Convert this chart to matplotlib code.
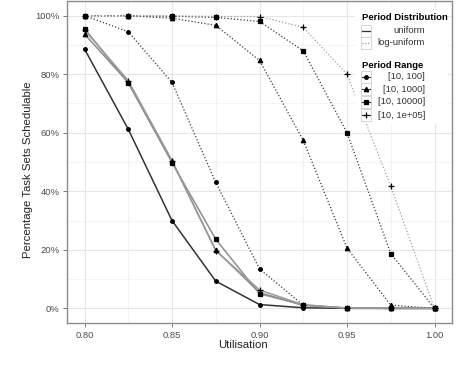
import numpy as np
import matplotlib
matplotlib.use("Agg")
import matplotlib.pyplot as plt
from matplotlib.lines import Line2D
from matplotlib.patches import Rectangle

plt.rcParams['font.family'] = ['Liberation Sans', 'DejaVu Sans']

utilisation = [0.800, 0.825, 0.850, 0.875, 0.900, 0.925, 0.950, 0.975, 1.000]
ranges = ["[10, 100]", "[10, 1000]", "[10, 10000]", "[10, 1e+05]"]
distributions = ["uniform", "log-uniform"]

# percentage schedulable, uniform period distribution
uniform_100 = [88.6, 61.2, 30.0, 9.3, 1.3, 0.2, 0.0, 0.0, 0.0]
uniform_1000 = [93.7, 77.2, 50.3, 19.9, 5.4, 1.0, 0.1, 0.0, 0.0]
uniform_10000 = [95.6, 77.0, 49.8, 23.6, 5.0, 1.2, 0.1, 0.0, 0.0]
uniform_1e5 = [95.1, 77.8, 50.5, 19.7, 6.3, 1.2, 0.1, 0.0, 0.0]

# percentage schedulable, log-uniform period distribution
loguni_100 = [100.0, 94.5, 77.2, 43.0, 13.5, 1.1, 0.0, 0.0, 0.0]
loguni_1000 = [100.0, 100.0, 99.1, 96.7, 84.7, 57.4, 20.6, 1.1, 0.0]
loguni_10000 = [100.0, 100.0, 99.8, 99.4, 98.0, 88.0, 60.0, 18.7, 0.0]
loguni_1e5 = [100.0, 100.0, 100.0, 99.7, 99.7, 96.0, 80.0, 41.7, 0.0]

markers = ["o", "^", "s", "+"]
msizes = [2.6, 3.2, 2.8, 4.6]
uniform_colours = ["#333333", "#8e8e8e", "#8e8e8e", "#9a9a9a"]
loguni_colours = ["#3a3a3a", "#3a3a3a", "#3a3a3a", "#a0a0a0"]

W, H = 474, 372
fig = plt.figure(figsize=(W / 100, H / 100), dpi=100)
ax = fig.add_axes([67 / W, 1 - 323 / H, (452 - 67) / W, (323 - 1) / H])


def fx(px):
    return px / W


def fy(py):
    return 1 - py / H


uniform_sets = [uniform_100, uniform_1000, uniform_10000, uniform_1e5]
loguni_sets = [loguni_100, loguni_1000, loguni_10000, loguni_1e5]

for i in range(4):
    ax.plot(utilisation, np.array(loguni_sets[i]) / 100, color=loguni_colours[i],
            lw=0.9, linestyle=(0, (1, 1.6)), zorder=3)
    ax.plot(utilisation, np.array(loguni_sets[i]) / 100, linestyle="none",
            marker=markers[i], ms=msizes[i], color="black", mew=0.9, zorder=5)
for i in range(4):
    ax.plot(utilisation, np.array(uniform_sets[i]) / 100, color=uniform_colours[i],
            lw=1.1, zorder=4)
    ax.plot(utilisation, np.array(uniform_sets[i]) / 100, linestyle="none",
            marker=markers[i], ms=msizes[i], color="black", mew=0.9, zorder=5)

ax.set_xlim(0.79, 1.01)
ax.set_ylim(-0.05, 1.05)
ax.set_xticks([0.80, 0.85, 0.90, 0.95, 1.00])
ax.set_xticklabels(["0.80", "0.85", "0.90", "0.95", "1.00"])
ax.set_xticks([0.825, 0.875, 0.925, 0.975], minor=True)
ax.set_yticks([0, 0.2, 0.4, 0.6, 0.8, 1.0])
ax.set_yticklabels(["0%", "20%", "40%", "60%", "80%", "100%"])
ax.set_yticks([0.1, 0.3, 0.5, 0.7, 0.9], minor=True)
ax.grid(True, which="major", color="#e6e6e6", lw=0.8, zorder=0)
ax.grid(True, which="minor", color="#f2f2f2", lw=0.6, zorder=0)
ax.set_axisbelow(True)
ax.tick_params(which="major", length=3, width=0.7, color="#7a7a7a",
               labelsize=6.8, labelcolor="#4d4d4d", pad=2.5)
ax.tick_params(which="minor", length=0)
for s in ax.spines.values():
    s.set_color("#8c8c8c")
    s.set_linewidth(1.0)

fig.text(fx(243), fy(345.5), "Utilisation", ha="center", va="center",
         fontsize=8.2, color="#222222")
fig.text(fx(28), fy(170), "Percentage Task Sets Schedulable", ha="center",
         va="center", rotation=90, fontsize=8.2, color="#222222")

# legend, drawn by hand to match ggplot layout
fig.add_artist(Rectangle((fx(355), fy(124)), (448 - 355) / W, (124 - 8) / H,
                         transform=fig.transFigure, facecolor="white",
                         edgecolor="none", zorder=6))
key_left, key_w, key_h = 361, 10, 12
lab_right = 425


def key_box(yc):
    fig.add_artist(Rectangle((fx(key_left), fy(yc + key_h / 2)), key_w / W, key_h / H,
                             transform=fig.transFigure, facecolor="white",
                             edgecolor="#d0d0d0", lw=0.6, zorder=7))


fig.text(fx(361.5), fy(17.5), "Period Distribution", fontsize=6.8,
         fontweight="bold", ha="left", va="center", zorder=8)
dist_rows = [30.5, 42.8]
dist_styles = ["-", (0, (1, 1.2))]
dist_colours = ["#333333", "#999999"]
for lab, yc, ls, c in zip(distributions, dist_rows, dist_styles, dist_colours):
    key_box(yc)
    fig.add_artist(Line2D([fx(key_left + 1), fx(key_left + key_w - 1)], [fy(yc), fy(yc)],
                          transform=fig.transFigure, color=c, lw=0.9, linestyle=ls,
                          zorder=8))
    fig.text(fx(lab_right), fy(yc), lab, fontsize=6.8, color="#333333",
             ha="right", va="center", zorder=8)

fig.text(fx(361.5), fy(65), "Period Range", fontsize=6.8,
         fontweight="bold", ha="left", va="center", zorder=8)
range_rows = [76.5, 89.3, 102, 115]
for i, (lab, yc) in enumerate(zip(ranges, range_rows)):
    key_box(yc)
    fig.add_artist(Line2D([fx(key_left + 1), fx(key_left + key_w - 1)], [fy(yc), fy(yc)],
                          transform=fig.transFigure, color="#333333", lw=0.8,
                          zorder=8))
    fig.add_artist(Line2D([fx(key_left + key_w / 2)], [fy(yc)], transform=fig.transFigure,
                          marker=markers[i], ms=msizes[i], color="black", mew=0.9,
                          linestyle="none", zorder=9))
    fig.text(fx(lab_right), fy(yc), lab, fontsize=6.8, color="#333333",
             ha="right", va="center", zorder=8)

fig.savefig("out.png", dpi=100)
